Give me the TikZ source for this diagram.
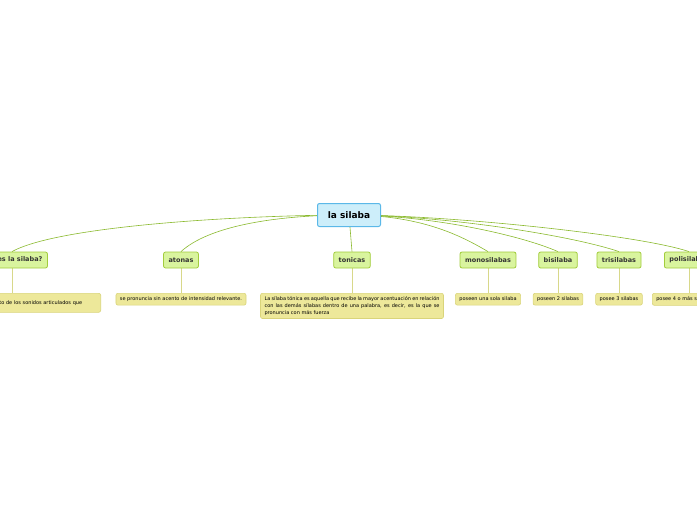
\documentclass[tikz,border=0pt]{standalone}
\usepackage{fontspec}
\setmainfont{DejaVu Sans}
\usetikzlibrary{backgrounds}
\definecolor{lg}{HTML}{D9F49E}\definecolor{lgb}{HTML}{A2CC3C}
\definecolor{yl}{HTML}{EDE89A}\definecolor{ylb}{HTML}{D9D47A}
\definecolor{bl}{HTML}{CDEEFA}\definecolor{blb}{HTML}{5BB8E8}
\definecolor{ln}{HTML}{8AB92D}\definecolor{vl}{HTML}{D8D88A}
\tikzset{
 root/.style={draw=blb,fill=bl,line width=1pt,rounded corners=2pt,font=\fontsize{9}{10}\selectfont\bfseries,minimum width=63pt,minimum height=23pt,inner sep=2pt},
 sub/.style={draw=lgb,fill=lg,line width=0.8pt,rounded corners=2pt,font=\fontsize{6.5}{7}\selectfont\bfseries,text=black!80,minimum height=16pt,inner xsep=5pt},
 desc/.style={draw=ylb,fill=yl,line width=0.6pt,rounded corners=2pt,font=\fontsize{5}{6.6}\selectfont,inner xsep=4pt,inner ysep=3.5pt,anchor=north},
 conn/.style={ln,line width=0.6pt},
 vln/.style={vl,line width=0.8pt}}
\begin{document}
\begin{tikzpicture}[x=1pt,y=-1pt]
\useasboundingbox (0,0) rectangle (697,520);
\clip (0,0) rectangle (697,520);
\node[root] (r) at (349,215) {la silaba};
\node[sub] (q) at (12,260) {que es la silaba?};
\node[sub] (a) at (181,260) {atonas};
\node[sub] (t) at (352,260) {tonicas};
\node[sub] (m) at (488,260) {monosilabas};
\node[sub] (b) at (558,260) {bisilaba};
\node[sub] (tr) at (619,260) {trisilabas};
\node[sub] (p) at (689,260) {polisilabas};
\node[desc,anchor=north east,text width=150pt,align=left,minimum height=19pt] (qd) at (101,293) {la silaba es el conjunto de los sonidos articulados que};
\node[desc] (ad) at (181,293) {se pronuncia sin acento de intensidad relevante.};
\node[desc,text width=175pt,align=justify] (td) at (352,293) {La sílaba tónica es aquella que recibe la mayor acentuación en relación con las demás sílabas dentro de una palabra, es decir, es la que se pronuncia con más fuerza};
\node[desc] (md) at (488,293) {poseen una sola silaba};
\node[desc] (bd) at (558,293) {poseen 2 silabas};
\node[desc] (trd) at (619,293) {posee 3 silabas};
\node[desc,anchor=north west] (pd) at (652,293) {posee 4 o más silabas};
\begin{pgfonlayer}{background}
\foreach \n in {q,a,t,m,b,tr,p}{\draw[vln] (\n.south) -- (\n d.north -| \n.south);}
\draw[conn] (r.center) .. controls (250,215) and (60,225) .. (q.north);
\draw[conn] (r.center) .. controls (280,215) and (210,225) .. (a.north);
\draw[conn] (r.center) -- (t.north);
\draw[conn] (r.center) .. controls (420,215) and (460,235) .. (m.north);
\draw[conn] (r.center) .. controls (430,215) and (520,235) .. (b.north);
\draw[conn] (r.center) .. controls (440,215) and (570,235) .. (tr.north);
\draw[conn] (r.center) .. controls (450,215) and (640,235) .. (p.north);
\end{pgfonlayer}
\end{tikzpicture}
\end{document}
